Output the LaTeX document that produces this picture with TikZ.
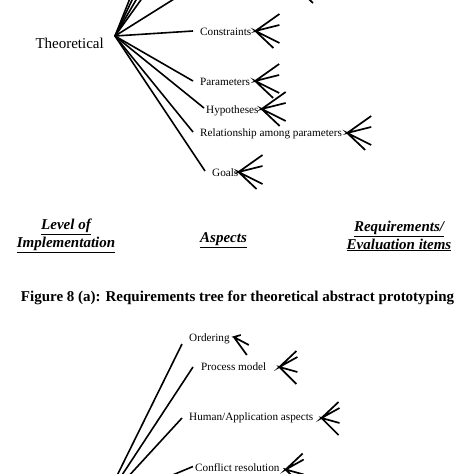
\documentclass[tikz,border=0pt]{standalone}
\usepackage{fontspec}
\setmainfont{Liberation Serif}
\begin{document}
\begin{tikzpicture}[x=1pt,y=-1pt,
  lbl/.style={anchor=west,inner sep=0pt,font=\fontsize{11.2}{13}\selectfont},
  big/.style={inner sep=0pt,font=\fontsize{15}{18}\selectfont},
  hdr/.style={inner sep=0pt,align=center,font=\fontsize{15}{18}\selectfont\bfseries\itshape},
  ln/.style={line width=1.6pt},
  crowfoot/.pic={\draw[line width=1.7pt] (24,-17) -- (0,0) -- (24,-6) (24,12) -- (0,0) -- (18,17);},
  crowfootS/.pic={\draw[line width=1.7pt] (17,-16) -- (0,0) -- (18,-10) (18,5) -- (0,0) -- (17,17);}
]
\useasboundingbox (0,0) rectangle (474,474);
\clip (0,0) rectangle (474,474);
\fill[white] (0,0) rectangle (474,474);

% ---------- Figure 8 (a) ----------
\node[big,anchor=east] (theo) at (104,43) {Theoretical};
\coordinate (hub) at (115,36);
\coordinate (u1) at (130.5,-3);
\coordinate (u2) at (133.5,-3);
\coordinate (u3) at (137.8,-3);
\coordinate (u4) at (143,-3);
\coordinate (u5) at (174,-1);
\foreach \u in {u1,u2,u3,u4,u5} \draw[ln] (hub) -- (\u);

\node[lbl] (cons) at (200,32) {Constraints};
\node[lbl] (par) at (200,82) {Parameters};
\node[lbl] (hyp) at (206,111) {Hypotheses};
\node[lbl] (rel) at (200,134) {Relationship among parameters};
\node[lbl] (goal) at (212,173) {Goals};

\draw[ln] (hub) -- ([shift={(-7,-1)}]cons.west);
\draw[ln] (hub) -- ([shift={(-7,-1)}]par.west);
\draw[ln] (hub) -- ([shift={(-2,-3)}]hyp.west);
\draw[ln] (hub) -- ([shift={(-7,-2)}]rel.west);
\draw[ln] (hub) -- ([shift={(-7,-2)}]goal.west);

\pic at ([shift={(4,-1)}]cons.east) {crowfoot};
\pic at ([shift={(5,-1)}]par.east) {crowfoot};
\pic at ([shift={(3,-2)}]hyp.east) {crowfoot};
\pic at ([shift={(5,-1)}]rel.east) {crowfoot};
\pic at ([shift={(0,-1)}]goal.east) {crowfoot};
\pic at (295,-14) {crowfoot};

% ---------- headers ----------
\node[hdr] (lvl) at (66,236) {\underline{Level of}\\\underline{Implementation}};
\node[hdr] (asp) at (223.5,240) {\underline{Aspects}};
\node[hdr] (req) at (399,236) {\underline{Requirements/}\\\underline{Evaluation items}};

\node[big,font=\fontsize{15}{18}\selectfont\bfseries] (cap) at (237.5,298)
  {Figure 8 (a): Requirements tree for theoretical abstract prototyping};

% ---------- second tree ----------
\coordinate (hub2) at (103,504);
\node[lbl] (ord) at (189,339) {Ordering};
\node[lbl] (proc) at (201,367) {Process model};
\node[lbl] (hum) at (189,418) {Human/Application aspects};
\node[lbl] (conf) at (195,467.5) {Conflict resolution};

\draw[ln] (hub2) -- ([shift={(-7,5)}]ord.west);
\draw[ln] (hub2) -- ([shift={(-8,0)}]proc.west);
\draw[ln] (hub2) -- ([shift={(-7,0)}]hum.west);
\draw[ln] (hub2) -- ([shift={(-2,-1)}]conf.west);

\draw[line width=1.7pt] ([shift={(11,-4)}]ord.east) -- ([shift={(4,-2)}]ord.east) -- ([shift={(19,6)}]ord.east)
  ([shift={(4,-2)}]ord.east) -- ([shift={(17,16)}]ord.east);
\pic at ([shift={(13,0)}]proc.east) {crowfootS};
\pic at ([shift={(8,0)}]hum.east) {crowfootS};
\pic at ([shift={(6,2)}]conf.east) {crowfootS};
\end{tikzpicture}
\end{document}
